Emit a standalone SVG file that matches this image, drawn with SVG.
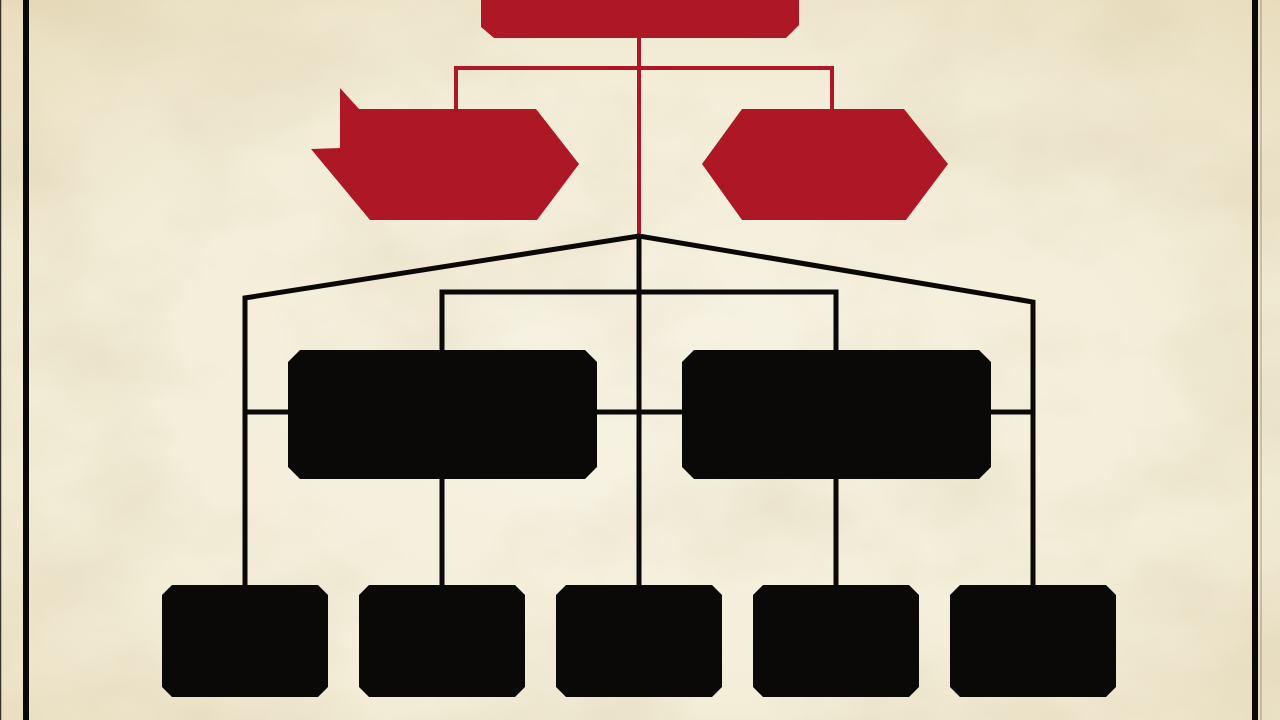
<svg xmlns="http://www.w3.org/2000/svg" width="1280" height="720" viewBox="0 0 1280 720">
  <defs>
    <radialGradient id="vign" cx="50%" cy="55%" r="75%">
      <stop offset="0" stop-color="#F7F3E4"/>
      <stop offset="0.6" stop-color="#F3EDD8"/>
      <stop offset="1" stop-color="#E8DCBC"/>
    </radialGradient>
    <filter id="paper" x="0" y="0" width="100%" height="100%">
      <feTurbulence type="fractalNoise" baseFrequency="0.006 0.009" numOctaves="4" seed="7"/>
      <feColorMatrix type="matrix" values="0 0 0 0 0.62  0 0 0 0 0.52  0 0 0 0 0.32  0 0 0 0.5 -0.2"/>
    </filter>
    <style>
      .red { fill: #AE1826; }
      .blk { fill: #0A0908; }
      .redline { fill: none; stroke: #AE1826; stroke-width: 4; }
      .blkline { fill: none; stroke: #0A0908; stroke-width: 5; stroke-linejoin: miter; }
      .border { stroke: #0A0908; fill: none; }
    </style>
  </defs>

  <!-- parchment background -->
  <rect x="0" y="0" width="1280" height="720" fill="url(#vign)"/>
  <rect x="0" y="0" width="1280" height="720" fill="#000" filter="url(#paper)"/>

  <!-- frame lines -->
  <g id="frame">
    <line class="border" x1="26" y1="0" x2="26" y2="720" stroke-width="6"/>
    <line class="border" x1="1255" y1="0" x2="1255" y2="720" stroke-width="6"/>
    <line class="border" x1="0.5" y1="0" x2="0.5" y2="720" stroke-width="1.5" opacity="0.8"/>
    <line class="border" x1="1261" y1="0" x2="1261" y2="720" stroke-width="1" opacity="0.35"/>
  </g>

  <!-- connectors -->
  <g id="connectors">
    <path class="redline" d="M639,36 V236"/>
    <path class="redline" d="M456,110 V68 H832 V110"/>
    <path class="blkline" d="M245,588 V298 L639,236 L1033,302 V588"/>
    <path class="blkline" d="M639,236 V588"/>
    <path class="blkline" d="M442,352 V292 H836 V352"/>
    <path class="blkline" d="M245,412 H1033"/>
    <path class="blkline" d="M442,477 V588"/>
    <path class="blkline" d="M836,477 V588"/>
  </g>

  <!-- red nodes -->
  <g id="node-top">
    <polygon class="red" points="481,0 799,0 799,25 786,38 494,38 481,27"/>
  </g>
  <g id="node-red-left">
    <polygon class="red" points="340,88 359,109 536,109 579,164 537,220 370,220 311,149 340,148"/>
  </g>
  <g id="node-red-right">
    <polygon class="red" points="742,109 904,109 948,164 906,220 742,220 702,164"/>
  </g>

  <!-- black middle nodes -->
  <g id="node-mid-left">
    <polygon class="blk" points="300,350 585,350 597,362 597,467 585,479 300,479 288,467 288,362"/>
  </g>
  <g id="node-mid-right">
    <polygon class="blk" points="694,350 979,350 991,362 991,467 979,479 694,479 682,467 682,362"/>
  </g>

  <!-- black bottom nodes -->
  <g id="node-b1">
    <polygon class="blk" points="172,585 318,585 328,595 328,687 318,697 172,697 162,687 162,595"/>
  </g>
  <g id="node-b2">
    <polygon class="blk" points="369,585 515,585 525,595 525,687 515,697 369,697 359,687 359,595"/>
  </g>
  <g id="node-b3">
    <polygon class="blk" points="566,585 712,585 722,595 722,687 712,697 566,697 556,687 556,595"/>
  </g>
  <g id="node-b4">
    <polygon class="blk" points="763,585 909,585 919,595 919,687 909,697 763,697 753,687 753,595"/>
  </g>
  <g id="node-b5">
    <polygon class="blk" points="960,585 1106,585 1116,595 1116,687 1106,697 960,697 950,687 950,595"/>
  </g>
</svg>
